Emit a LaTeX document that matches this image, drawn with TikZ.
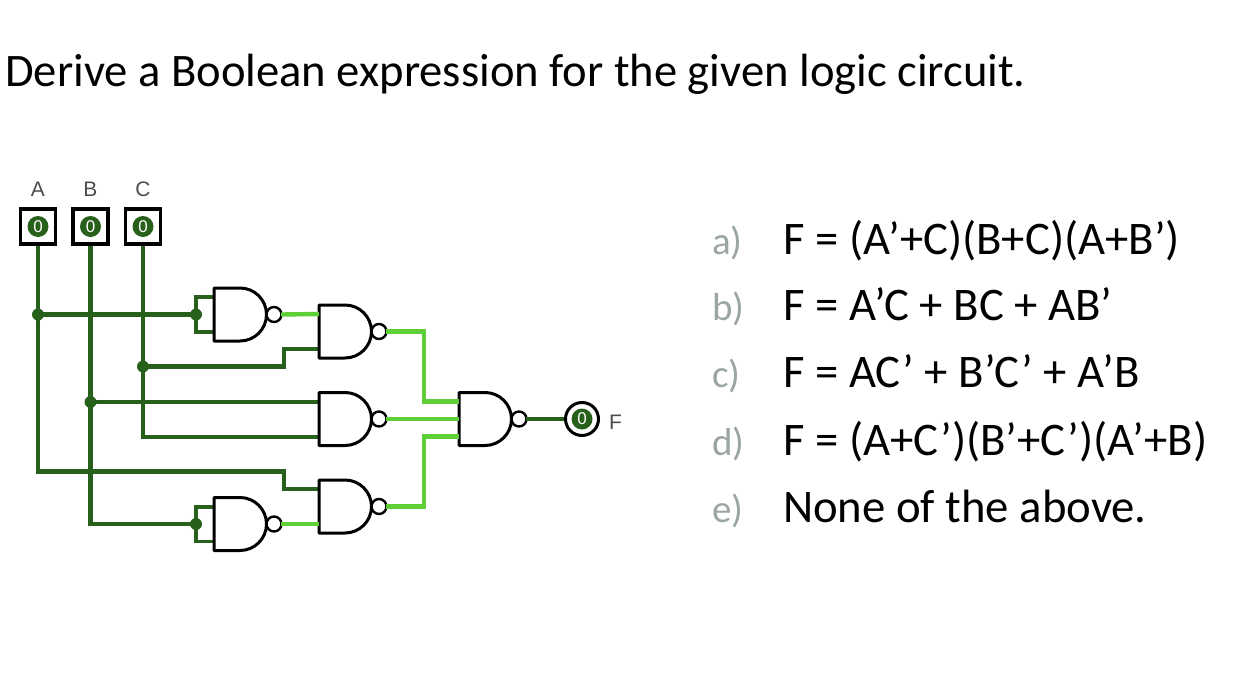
\documentclass[tikz,border=0pt]{standalone}
\usepackage{fontspec}
\setmainfont{Carlito}
\newfontfamily\labelfont{Liberation Sans}
\definecolor{wiredark}{HTML}{27601A}
\definecolor{wirelight}{HTML}{5FCF38}
\definecolor{optgray}{HTML}{9AA69F}
\tikzset{
  wireoff/.style={draw=wiredark,line width=4.4pt,line join=miter},
  wireon/.style={draw=wirelight,line width=4.4pt,line join=miter},
  junction/.style={circle,fill=wiredark,inner sep=0pt,minimum size=12pt},
  gatebody/.style={draw=black,line width=3pt,fill=white,line join=round},
  bubble/.style={circle,draw=black,line width=2.4pt,fill=white,inner sep=0pt,minimum size=15pt},
  inbox/.style={rectangle,draw=black,line width=3.2pt,fill=white,inner sep=0pt,minimum size=35pt},
  led/.style={circle,fill=wiredark,text=white,inner sep=0pt,minimum size=21pt,font=\labelfont\fontsize{17}{17}\selectfont},
  outring/.style={circle,draw=black,line width=3pt,fill=white,inner sep=0pt,minimum size=33pt},
  pinlabel/.style={font=\labelfont\fontsize{21}{21}\selectfont,text=black!70,inner sep=0pt},
  title/.style={font=\fontsize{46.6}{47}\selectfont,anchor=base west,inner sep=0pt},
  optletter/.style={font=\fontsize{39}{39}\selectfont,text=optgray,anchor=base west,inner sep=0pt},
  opttext/.style={font=\fontsize{46.7}{47}\selectfont,anchor=base west,inner sep=0pt},
}
% \gateshape{name}{left x}{centre y}
\newcommand{\gateshape}[3]{%
  \coordinate (#1-a) at (#2,#3-17.5);
  \coordinate (#1-m) at (#2,#3);
  \coordinate (#1-b) at (#2,#3+17.5);
  \coordinate (#1-o) at (#2+67,#3);
  \draw[gatebody] (#2,#3-26.5) -- (#2+26,#3-26.5) arc[start angle=-90,end angle=90,radius=26.5] -- (#2,#3+26.5) -- cycle;
  \node[bubble] (#1-n) at (#2+60,#3) {};
}
\begin{document}
\begin{tikzpicture}[x=1pt,y=-1pt]
\useasboundingbox (0,0) rectangle (1242,688);
\node[title] (ttl) at (5,86) {Derive a Boolean expression for the given logic circuit.};

% coordinates of the wiring
\coordinate (Ap) at (38,227);
\coordinate (Bp) at (90.5,227);
\coordinate (Cp) at (143,227);
\coordinate (Aend) at (38,471.5);
\coordinate (Bend) at (90.5,524);
\coordinate (Cend) at (143,437);

% off wires
\draw[wireoff] (Ap) -- (Aend) -- (284,471.5) -- (284,489) -- (319,489);
\draw[wireoff] (Bp) -- (Bend) -- (196,524);
\draw[wireoff] (Cp) -- (Cend) -- (319,437);
\draw[wireoff] (38,314.5) -- (196,314.5);
\draw[wireoff] (143,366.5) -- (284,366.5) -- (284,349) -- (319,349);
\draw[wireoff] (90.5,402) -- (319,402);
% self-loop inputs
\draw[wireoff,line width=3.6pt] (214,297) -- (196,297) -- (196,332) -- (214,332);
\draw[wireoff,line width=3.6pt] (214,507) -- (196,507) -- (196,541.5) -- (214,541.5);
% gates
\gateshape{g1}{214}{314.5}
\gateshape{g2}{319}{331.5}
\gateshape{g3}{319}{419}
\gateshape{g4}{319}{506.5}
\gateshape{g5}{214}{524}
\gateshape{g6}{459}{419}
% on wires
\draw[wireon] (g1-o) -- (g2-a);
\draw[wireon] (g5-o) -- (g4-b);
\draw[wireon] (g2-o) -- (424,331.5) -- (424,401.5) -- (g6-a);
\draw[wireon] (g3-o) -- (g6-m);
\draw[wireon] (g4-o) -- (424,506.5) -- (424,436.5) -- (g6-b);
% output
\node[outring] (Fo) at (582,419) {};
\draw[wireoff] (g6-o) -- (Fo);
\node[led] (Fl) at (582,419) {0};
\node[pinlabel,anchor=west] (Ft) at (609,422) {F};
% junctions
\node[junction] (j1) at (38,314.5) {};
\node[junction] (j2) at (196,314.5) {};
\node[junction] (j3) at (143,366.5) {};
\node[junction] (j4) at (90.5,402) {};
\node[junction] (j5) at (196,524) {};
% inputs
\foreach \n/\x in {A/38,B/90.5,C/143}{
  \node[inbox] (box\n) at (\x,226.5) {};
  \node[led] (led\n) at (\x,226.5) {0};
  \node[pinlabel] (lab\n) at (\x,189) {\n};
}
% options
\foreach \l/\y/\t in {a)/254/{F = (A’+C)(B+C)(A+B’)},b)/320/{F = A’C + BC + AB’},c)/387/{F = AC’ + B’C’ + A’B},d)/455/{F = (A+C’)(B’+C’)(A’+B)},e)/522/{None of the above.}}{
  \node[optletter] at (712,\y) {\l};
  \node[opttext] at (783,\y) {\t};
}
\end{tikzpicture}
\end{document}
